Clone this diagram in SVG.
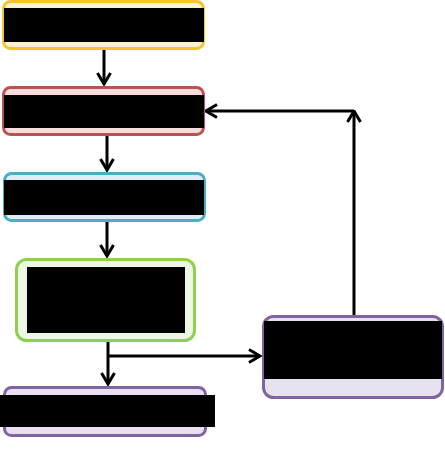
<svg xmlns="http://www.w3.org/2000/svg" width="445" height="460" viewBox="0 0 445 460">
<style>
.n{stroke-width:3}
.c{fill:none;stroke:#000;stroke-width:3}
.r{fill:#000}
</style>
<defs>
<marker id="a" viewBox="0 0 14 16" refX="12.5" refY="8" markerWidth="14" markerHeight="16" markerUnits="userSpaceOnUse" orient="auto">
<path d="M1.5,1.5 L12.5,8 L1.5,14.5" fill="none" stroke="#000" stroke-width="3"/>
</marker>
</defs>
<rect width="445" height="460" fill="#fff"/>
<g id="connectors">
<path class="c" d="M104,48 V84" marker-end="url(#a)"/>
<path class="c" d="M107,135 V170" marker-end="url(#a)"/>
<path class="c" d="M107,222 V256" marker-end="url(#a)"/>
<path class="c" d="M108,341 V384" marker-end="url(#a)"/>
<path class="c" d="M108,356 H260" marker-end="url(#a)"/>
<path class="c" d="M354,315 V111" marker-end="url(#a)"/>
<path class="c" d="M354,111 H206" marker-end="url(#a)"/>
</g>
<g id="n1"><rect class="n" x="3.5" y="1.5" width="200" height="47" rx="7" fill="#fdf0d5" stroke="#f5c32c"/><rect class="r" x="4" y="8" width="200" height="34"/></g>
<g id="n2"><rect class="n" x="3.5" y="87.5" width="200" height="47" rx="7" fill="#f9dcdb" stroke="#b85450"/><rect class="r" x="4" y="95" width="200" height="33"/></g>
<g id="n3"><rect class="n" x="4.5" y="173.5" width="200" height="47" rx="7" fill="#dcedf6" stroke="#4bacc6"/><rect class="r" x="4" y="180" width="200" height="35"/></g>
<g id="n4"><rect class="n" x="16.5" y="259.5" width="178" height="81" rx="10" fill="#edf7e4" stroke="#8fd14f"/><rect class="r" x="27" y="267" width="158" height="66"/></g>
<g id="n5"><rect class="n" x="4.5" y="387.5" width="201" height="48" rx="7" fill="#e6e0ef" stroke="#8064a2"/><rect class="r" x="0" y="395" width="215" height="32"/></g>
<g id="n6"><rect class="n" x="263.5" y="316.5" width="179" height="81" rx="10" fill="#e6e3ef" stroke="#8064a2"/><rect class="r" x="264" y="321" width="178" height="58"/></g>
</svg>
